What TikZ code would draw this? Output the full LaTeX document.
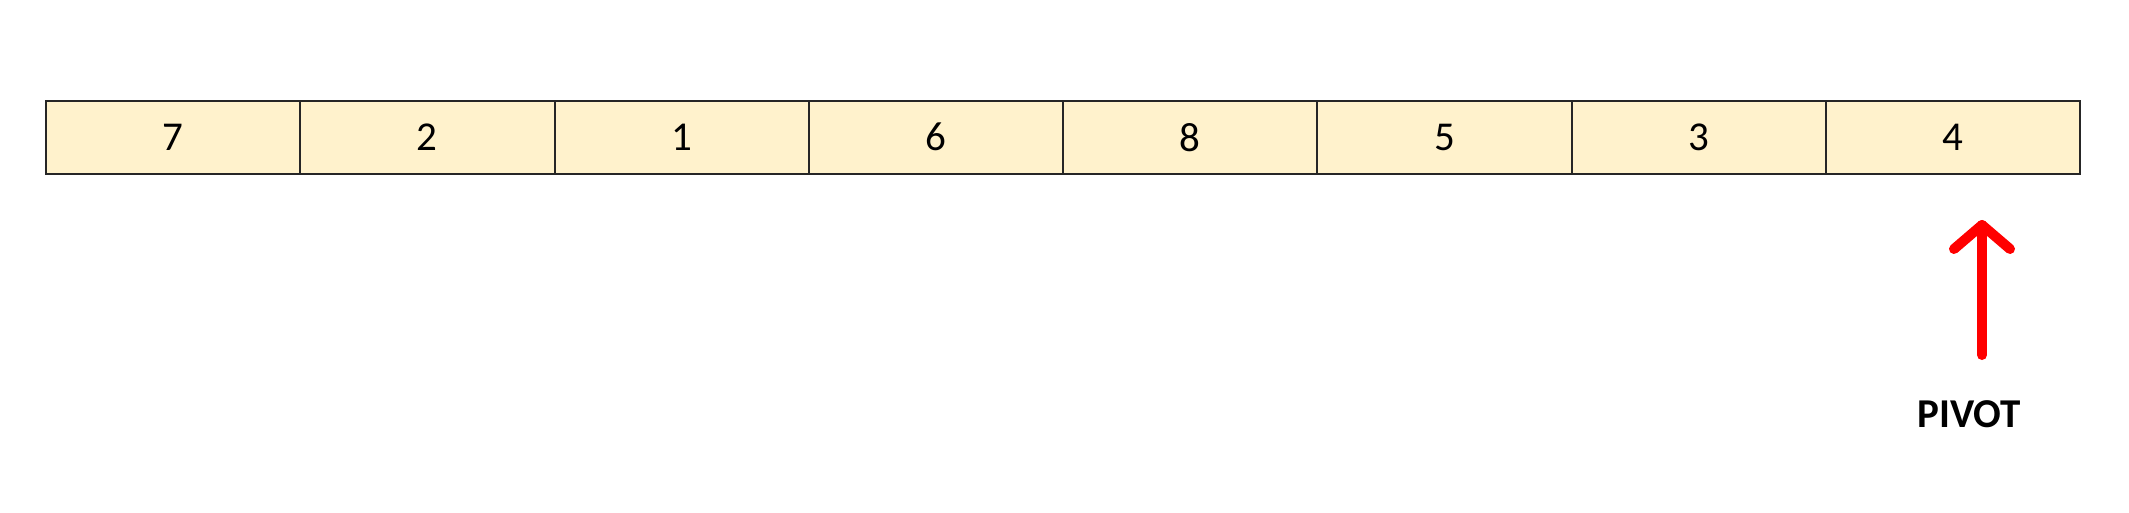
\documentclass[tikz,border=0pt]{standalone}
\usepackage{fontspec}
\setmainfont{Carlito}
\usetikzlibrary{positioning}
\definecolor{cellfill}{HTML}{FFF2CC}
\definecolor{pivred}{HTML}{FF0000}
\tikzset{
  cell/.style={draw=black!85, line width=2pt, fill=cellfill, minimum width=254.25pt, minimum height=72.5pt, inner sep=0pt, outer sep=0pt, font=\fontsize{41}{45}\selectfont, anchor=north west},
  pivarrow/.style={draw=pivred, line width=10pt, line cap=round, line join=round},
  pivlabel/.style={font=\fontsize{41}{45}\selectfont\bfseries, inner sep=0pt}
}
\begin{document}
\begin{tikzpicture}[x=1pt,y=-1pt]
\useasboundingbox (0,0) rectangle (2129,512);
\foreach \v [count=\i from 0] in {7,2,1,6,8,5,3,4} {
  \node[cell] (c\i) at ({46+254.25*\i},101) {\v};
}
\coordinate (tail) at (1982,355);
\coordinate (tip) at (1982,225);
\draw[pivarrow] (tail) -- (tip);
\draw[pivarrow] ([xshift=-28pt,yshift=-24pt]tip) -- (tip) -- ([xshift=28pt,yshift=-24pt]tip);
\node[pivlabel] (pivot) at (1969,414) {PIVOT};
\end{tikzpicture}
\end{document}
